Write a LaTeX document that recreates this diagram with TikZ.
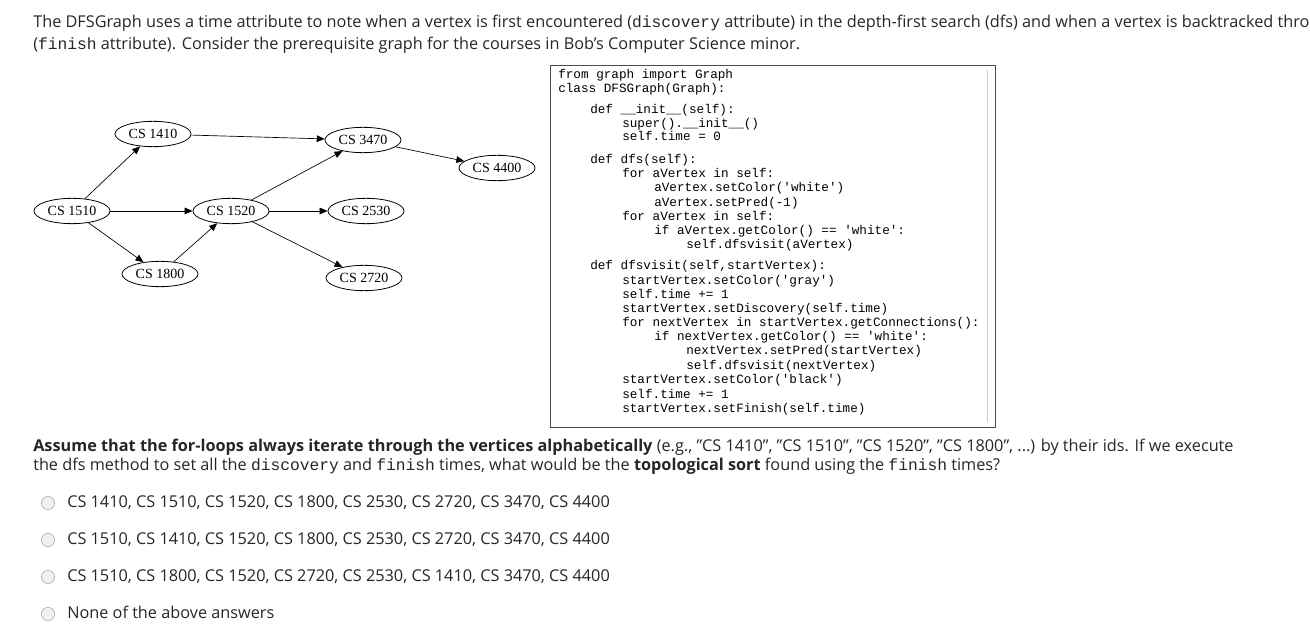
\documentclass[tikz,border=0pt]{standalone}
\usepackage{fontspec}
\setmainfont{Open Sans}
\newfontfamily\serifg{Liberation Serif}
\newfontfamily\monog{Liberation Mono}
\usetikzlibrary{arrows.meta,shapes.geometric}
\newcommand{\cd}[1]{{\monog #1}}
\begin{document}
\begin{tikzpicture}[x=0.75pt,y=-0.75pt,
  txt/.style={anchor=base west,inner sep=0,font=\fontsize{12.2}{14}\selectfont,text=black!85},
  vert/.style={draw,ellipse,line width=0.6pt,minimum width=57pt,minimum height=19pt,inner sep=0,font=\serifg\fontsize{10.5}{12}\selectfont},
  edge/.style={-{Triangle[length=6pt,width=5pt]},line width=0.5pt},
  code/.style={anchor=base west,inner sep=0,font=\monog\fontsize{9.5}{10}\selectfont},
  radio/.style={circle,draw=gray!70,fill=gray!12,minimum size=10pt,inner sep=0}]
\useasboundingbox (0,0) rectangle (1310,641);
\node[txt] (t1) at (33,28) {The DFSGraph uses a time attribute to note when a vertex is first encountered (\cd{discovery} attribute) in the depth-first search (dfs) and when a vertex is backtracked thro};
\node[txt] (t2) at (33,50) {(\cd{finish} attribute).  Consider the prerequisite graph for the courses in Bob's Computer Science minor.};
% graph
\node[vert] (a) at (153,134) {CS 1410};
\node[vert] (b) at (363,140) {CS 3470};
\node[vert] (c) at (497,168) {CS 4400};
\node[vert] (d) at (72,211) {CS 1510};
\node[vert] (e) at (231,211) {CS 1520};
\node[vert] (f) at (366,211) {CS 2530};
\node[vert] (g) at (160,274) {CS 1800};
\node[vert] (h) at (364,278) {CS 2720};
\draw[edge] (a) -- (b);
\draw[edge] (b) -- (c);
\draw[edge] (d) -- (a);
\draw[edge] (d) -- (e);
\draw[edge] (d) -- (g);
\draw[edge] (g) -- (e);
\draw[edge] (e) -- (b);
\draw[edge] (e) -- (f);
\draw[edge] (e) -- (h);
% code box
\node[draw=black!70,line width=0.8pt,minimum width=333.75pt,minimum height=271.5pt,anchor=north west,inner sep=0] (box) at (550,65) {};
\draw[gray!40] (987,70) -- (987,422);
\foreach \y/\x/\s in {
79/558/{from graph import Graph},
93/558/{class DFSGraph(Graph):},
114/590/{def \_\_init\_\_(self):},
128/622/{super().\_\_init\_\_()},
141/622/{self.time = 0},
164/590/{def dfs(self):},
178/622/{for aVertex in self:},
192/654/{aVertex.setColor('white')},
207/654/{aVertex.setPred(-1)},
221/622/{for aVertex in self:},
235/654/{if aVertex.getColor() == 'white':},
249/686/{self.dfsvisit(aVertex)},
270/590/{def dfsvisit(self,startVertex):},
285/622/{startVertex.setColor('gray')},
299/622/{self.time += 1},
313/622/{startVertex.setDiscovery(self.time)},
327/622/{for nextVertex in startVertex.getConnections():},
341/654/{if nextVertex.getColor() == 'white':},
355/686/{nextVertex.setPred(startVertex)},
370/686/{self.dfsvisit(nextVertex)},
384/622/{startVertex.setColor('black')},
398/622/{self.time += 1},
412/622/{startVertex.setFinish(self.time)}}
  \node[code] at (\x,\y) {\s};
% question
\node[txt] (q1) at (33,451) {\textbf{Assume that the for-loops always iterate through the vertices alphabetically} (e.g., "CS 1410", "CS 1510", "CS 1520", "CS 1800", ...) by their ids.  If we execute};
\node[txt] (q2) at (33,470) {the dfs method to set all the \cd{discovery} and \cd{finish} times, what would be the \textbf{topological sort} found using the \cd{finish} times?};
\node[radio] (r1) at (48,503) {};
\node[radio] (r2) at (48,540) {};
\node[radio] (r3) at (48,577) {};
\node[radio] (r4) at (48,614) {};
\node[txt] (o1) at (67,507) {CS 1410, CS 1510, CS 1520, CS 1800, CS 2530, CS 2720, CS 3470, CS 4400};
\node[txt] (o2) at (67,544) {CS 1510, CS 1410, CS 1520, CS 1800, CS 2530, CS 2720, CS 3470, CS 4400};
\node[txt] (o3) at (67,581) {CS 1510, CS 1800, CS 1520, CS 2720, CS 2530, CS 1410, CS 3470, CS 4400};
\node[txt] (o4) at (67,618) {None of the above answers};
\end{tikzpicture}
\end{document}
